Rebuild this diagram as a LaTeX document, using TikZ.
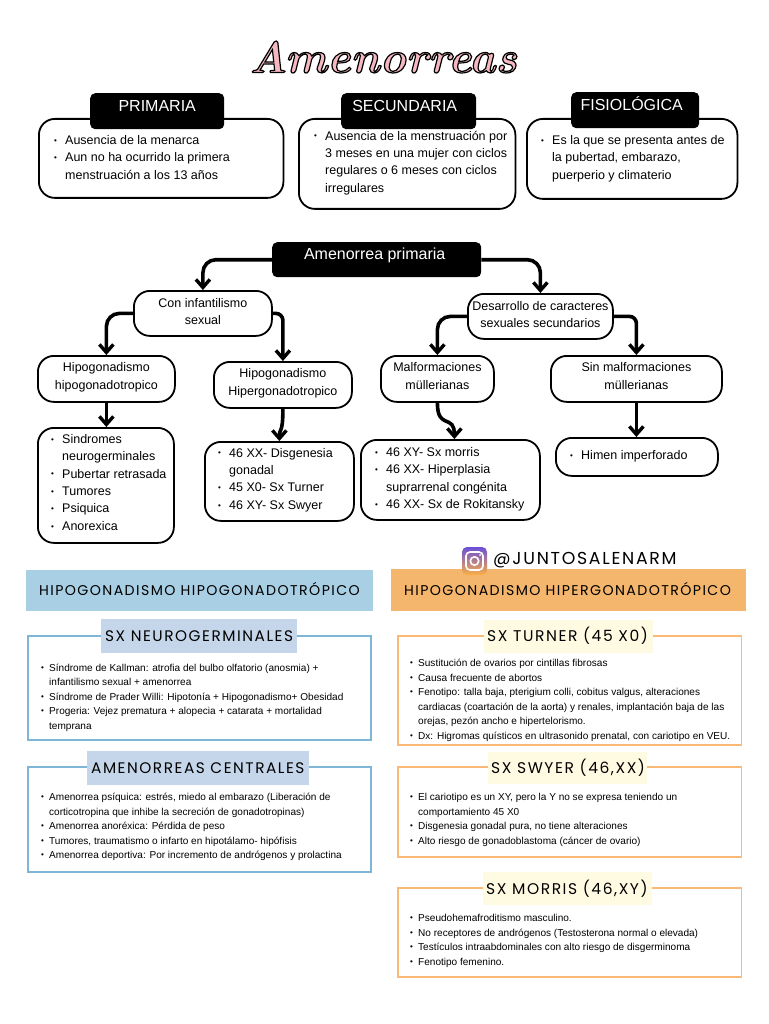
\documentclass[tikz,border=0pt]{standalone}
\usepackage{fontspec}
\usetikzlibrary{arrows.meta,calc}
\newfontfamily\bodyf{Liberation Sans}
\newfontfamily\headf[LetterSpace=10]{Poppins}
\newcommand\li{\strut\makebox[\lw][l]{\raisebox{.1em}{\fontsize{8}{8}\selectfont •}}}
\newcommand\cn{\strut\hspace*{\lw}}
\newlength\lw
\newcommand\cc[1]{\raisebox{0pt}[0pt][0pt]{#1}}
\newcommand\tl[3][-1pt]{\raisebox{#1}[0pt][0pt]{\begin{tabular}{@{}c@{}}#2\\#3\end{tabular}}}
\definecolor{bluehead}{HTML}{A9CFE4}
\definecolor{blueline}{HTML}{7FB5D6}
\definecolor{bluetitle}{HTML}{C5D6EA}
\definecolor{orahead}{HTML}{F4B56C}
\definecolor{oraline}{HTML}{F9BA78}
\definecolor{oratitle}{HTML}{FFFBE3}
\definecolor{igtop}{HTML}{6A4FD8}
\definecolor{igmid}{HTML}{E1306C}
\definecolor{igbot}{HTML}{FCAF45}
\tikzset{
  rb/.style={draw=black,line width=1.8pt,rounded corners=16pt,fill=white,inner sep=0pt,anchor=north west,align=center,font=\bodyf\fontsize{12.5}{17.4}\selectfont},
  blk/.style={fill=black,text=white,rounded corners=5pt,inner sep=0pt,anchor=north west,align=center,font=\bodyf\fontsize{16}{18}\selectfont},
  bigl/.style={inner sep=0pt,anchor=north west,align=left,font=\bodyf\fontsize{12.5}{17.4}\selectfont\setlength\lw{11pt}},
  smal/.style={inner sep=0pt,anchor=north west,align=left,font=\bodyf\fontsize{10.05}{14.5}\selectfont\setlength\lw{8pt}},
  arr/.style={line width=3.6pt,draw=black,-{Straight Barb[length=8pt,width=14pt,line width=3.4pt]},rounded corners=13pt},
  hd/.style={inner sep=0pt,anchor=base west,text=black,font=\headf\fontsize{14.15}{16}\selectfont},
  sec/.style={rectangle,line width=1.6pt,inner sep=0pt,anchor=north west},
  sect/.style={inner sep=0pt,anchor=base west,text=black,font=\headf\fontsize{15.5}{18}\selectfont},
  sectb/.style={sect,font=\headf\fontsize{15.3}{18}\selectfont},
}
\begin{document}
\begin{tikzpicture}[x=1pt,y=-1pt]
\useasboundingbox (0,0) rectangle (768,1024);
\fill[white] (0,0) rectangle (768,1024);
% title
\node[inner sep=0pt] (title) at (383,57) {\fontsize{44.5}{50}\selectfont\bfseries\itshape\special{pdf:bcolor [0.96 0.72 0.76] [0 0 0]}\special{pdf:code 2 Tr 1.2 w}Amenorreas\special{pdf:code 0 Tr}\special{pdf:ecolor}};
% top boxes
\node[rb,minimum width=244.5pt,minimum height=79pt] (pbox) at (38,118) {};
\node[rb,minimum width=216.5pt,minimum height=90pt] (sbox) at (298,118) {};
\node[rb,minimum width=210.5pt,minimum height=80pt] (fbox) at (526,118) {};
\node[blk,minimum width=134pt,minimum height=36pt] (plab) at (90,93) {\cc{PRIMARIA}};
\node[blk,minimum width=135pt,minimum height=36pt] (slab) at (341,93) {\cc{\hspace*{-8pt}SECUNDARIA}};
\node[blk,minimum width=128pt,minimum height=36pt] (flab) at (571,92) {\cc{\hspace*{-7pt}FISIOLÓGICA}};
\node[bigl] (ptxt) at (54,132) {\li Ausencia de la menarca\\\li Aun no ha ocurrido la primera\\\cn menstruación a los 13 años};
\node[bigl] (stxt) at (314,127.7) {\li Ausencia de la menstruación por\\\cn 3 meses en una mujer con ciclos\\\cn regulares o 6 meses con ciclos\\\cn irregulares};
\node[bigl] (ftxt) at (541,132) {\li Es la que se presenta antes de\\\cn la pubertad, embarazo,\\\cn puerperio y climaterio};
% tree
\node[blk,minimum width=209pt,minimum height=35pt] (root) at (272,242) {\cc{\hspace*{-4pt}Amenorrea primaria}};
\node[rb,minimum width=138pt,minimum height=45pt] (con) at (133,290) {\tl[-2pt]{Con infantilismo}{sexual}};
\node[rb,minimum width=145pt,minimum height=45pt] (des) at (467,293) {\tl[-2pt]{Desarrollo de caracteres}{sexuales secundarios}};
\node[rb,minimum width=137pt,minimum height=46pt] (hipo) at (37,355) {\tl{Hipogonadismo}{hipogonadotropico}};
\node[rb,minimum width=138pt,minimum height=46pt] (hiper) at (213,361) {\tl{Hipogonadismo}{Hipergonadotropico}};
\node[rb,minimum width=113pt,minimum height=46pt] (mal) at (380,355) {\tl{Malformaciones}{müllerianas}};
\node[rb,minimum width=171pt,minimum height=46pt] (sin) at (550,355) {\tl{Sin malformaciones}{müllerianas}};
\node[rb,minimum width=136pt,minimum height=115pt] (b1) at (37,427) {};
\node[rb,minimum width=149pt,minimum height=79pt] (b2) at (204,441) {};
\node[rb,minimum width=179pt,minimum height=80pt] (b3) at (360,439) {};
\node[rb,minimum width=162pt,minimum height=38pt] (b4) at (555,437) {};
\node[bigl] (t1) at (51,431) {\li Sindromes\\\cn neurogerminales\\\li Pubertar retrasada\\\li Tumores\\\li Psiquica\\\li Anorexica};
\node[bigl] (t2) at (218,444.7) {\li 46 XX- Disgenesia\\\cn gonadal\\\li 45 X0- Sx Turner\\\li 46 XY- Sx Swyer};
\node[bigl] (t3) at (375,444) {\li 46 XY- Sx morris\\\li 46 XX- Hiperplasia\\\cn suprarrenal congénita\\\li 46 XX- Sx de Rokitansky};
\node[bigl] (t4) at (570,447) {\li Himen imperforado};
\draw[arr] (root.west) -| (con.north);
\draw[arr] (root.east) -| (des.north);
\draw[arr] (con.west) -| (hipo.north);
\draw[arr,rounded corners=7pt] (con.east) -| (hiper.north);
\draw[arr] (des.west) -| (mal.north);
\draw[arr,rounded corners=7pt] (des.east) -| (sin.north);
\draw[arr] (hipo.south) -- (hipo.south|-b1.north);
\draw[arr] (hiper.south) .. controls +(0,26) and +(0,-14) .. (b2.north);
\draw[arr] (mal.south) .. controls +(0,28) and +(0,-26) .. ([xshift=4pt]b3.north);
\draw[arr] (sin.south) -- (sin.south|-b4.north);
% left column
\node[rectangle,fill=bluehead,minimum width=347pt,minimum height=41pt,inner sep=0pt,anchor=north west] (bh) at (26,570) {};
\node[hd] (bht) at (39,595) {HIPOGONADISMO HIPOGONADOTRÓPICO};
\node[sec,draw=blueline,minimum width=343pt,minimum height=104pt] (bb1) at (27,635) {};
\node[sec,draw=blueline,minimum width=343pt,minimum height=105pt] (bb2) at (27,766) {};
\node[rectangle,fill=bluetitle,minimum width=196pt,minimum height=34pt,inner sep=0pt,anchor=north west] (bt1) at (101,619) {};
\node[sectb] (bt1t) at (105,641.5) {SX NEUROGERMINALES};
\node[rectangle,fill=bluetitle,minimum width=222pt,minimum height=34pt,inner sep=0pt,anchor=north west] (bt2) at (87,751) {};
\node[sectb] (bt2t) at (91,773.5) {AMENORREAS CENTRALES};
\node[smal] (bl1) at (41,661) {\li Síndrome de Kallman: atrofia del bulbo olfatorio (anosmia) +\\\cn infantilismo sexual + amenorrea\\\li Síndrome de Prader Willi: Hipotonía + Hipogonadismo+ Obesidad\\\li Progeria: Vejez prematura + alopecia + catarata + mortalidad\\\cn temprana};
\node[smal] (bl2) at (41,790.5) {\li Amenorrea psíquica: estrés, miedo al embarazo (Liberación de\\\cn corticotropina que inhibe la secreción de gonadotropinas)\\\li Amenorrea anoréxica: Pérdida de peso\\\li Tumores, traumatismo o infarto en hipotálamo- hipófisis\\\li Amenorrea deportiva: Por incremento de andrógenos y prolactina};
% right column
\node[rectangle,fill=orahead,minimum width=355pt,minimum height=42pt,inner sep=0pt,anchor=north west] (oh) at (391,569) {};
\node[hd] (oht) at (404,595) {HIPOGONADISMO HIPERGONADOTRÓPICO};
\node[sec,draw=oraline,minimum width=343.5pt,minimum height=109pt] (ob1) at (397,635) {};
\node[sec,draw=oraline,minimum width=343.5pt,minimum height=90pt] (ob2) at (397,766) {};
\node[sec,draw=oraline,minimum width=343.5pt,minimum height=89pt] (ob3) at (397,887) {};
\node[rectangle,fill=oratitle,minimum width=169pt,minimum height=33pt,inner sep=0pt,anchor=north west] (ot1) at (484,620) {};
\node[sect] (ot1t) at (487,641.5) {SX TURNER (45 X0)};
\node[rectangle,fill=oratitle,minimum width=159pt,minimum height=32pt,inner sep=0pt,anchor=north west] (ot2) at (488,752) {};
\node[sect] (ot2t) at (491,773.5) {SX SWYER (46,XX)};
\node[rectangle,fill=oratitle,minimum width=169pt,minimum height=33pt,inner sep=0pt,anchor=north west] (ot3) at (483,872) {};
\node[sect] (ot3t) at (486,894.5) {SX MORRIS (46,XY)};
\node[smal] (ol1) at (410,656.5) {\li Sustitución de ovarios por cintillas fibrosas\\\li Causa frecuente de abortos\\\li Fenotipo: talla baja, pterigium colli, cobitus valgus, alteraciones\\\cn cardiacas (coartación de la aorta) y renales, implantación baja de las\\\cn orejas, pezón ancho e hipertelorismo.\\\li Dx: Higromas quísticos en ultrasonido prenatal, con cariotipo en VEU.};
\node[smal] (ol2) at (410,790.5) {\li El cariotipo es un XY, pero la Y no se expresa teniendo un\\\cn comportamiento 45 X0\\\li Disgenesia gonadal pura, no tiene alteraciones\\\li Alto riesgo de gonadoblastoma (cáncer de ovario)};
\node[smal] (ol3) at (410,911.5) {\li Pseudohemafroditismo masculino.\\\li No receptores de andrógenos (Testosterona normal o elevada)\\\li Testículos intraabdominales con alto riesgo de disgerminoma\\\li Fenotipo femenino.};
% instagram
\node[inner sep=0pt,anchor=base west,font=\headf\fontsize{17.3}{20}\selectfont] (insta) at (493,564) {@JUNTOSALENARM};
\shade[rounded corners=5pt,top color=igtop,middle color=igmid,bottom color=igbot] (462,547) rectangle (487,575);
\draw[white,line width=1.6pt,rounded corners=4pt] (466,552) rectangle (483,570);
\draw[white,line width=1.6pt] (474.5,561) circle (4.2);
\fill[white] (480,555) circle (1);
\end{tikzpicture}
\end{document}
